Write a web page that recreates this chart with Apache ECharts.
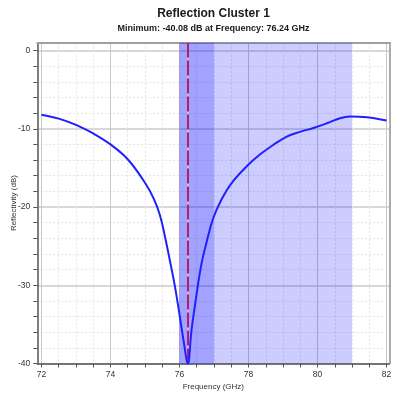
<!DOCTYPE html>
<html><head><meta charset="utf-8">
<script src="https://cdn.jsdelivr.net/npm/echarts@6/dist/echarts.min.js"></script>
<style>html,body{margin:0;padding:0;background:#fff}#c{width:400px;height:400px}</style>
</head><body><div id="c"></div>
<script>
const titleText = 'Reflection Cluster 1';
const subtitleText = 'Minimum: -40.08 dB at Frequency: 76.24 GHz';
const xName = 'Frequency (GHz)';
const yName = 'Reflectivity (dB)';
const freqs = [72.0,72.5,73.0,73.5,74.0,74.5,75.0,75.25,75.43,75.58,75.72,75.87,76.01,76.13,76.24,76.35,76.5,76.64,76.79,76.98,77.2,77.5,77.95,78.33,78.72,79.11,79.49,79.88,80.27,80.65,80.94,81.43,82.0];
const reflectivity = [-8.2,-8.7,-9.5,-10.6,-12.0,-13.9,-16.9,-18.9,-21.0,-23.8,-26.8,-30.2,-34.0,-37.4,-40.08,-35.7,-31.0,-27.2,-24.4,-21.4,-19.2,-17.0,-14.8,-13.3,-12.06,-11.0,-10.4,-9.9,-9.3,-8.65,-8.44,-8.52,-8.95];
const minFreq = 76.24;
const bandOuter = [76, 81];
const bandInner = [76, 77];
const xMajorTicks = [72,74,76,78,80,82];
const xMinorTicks = [72,72.5,73,73.5,74,74.5,75,75.5,76,76.5,77,77.5,78,78.5,79,79.5,80,80.5,81,81.5,82];
const yMajorTicks = [-40,-30,-20,-10,0];
const yMinorTicks = [-40,-38,-36,-34,-32,-30,-28,-26,-24,-22,-20,-18,-16,-14,-12,-10,-8,-6,-4,-2,0];
const xRange = [71.88, 82.08];
const yRange = [-40, 1];

const chart = echarts.init(document.getElementById('c'), null, {renderer:'canvas'});
const fontFam = '"Liberation Sans", Arial, sans-serif';
chart.setOption({
  animation:false,
  backgroundColor:'#fff',
  grid:{left:37.3, right:10.7, top:42.7, bottom:36.5, containLabel:false, outerBoundsMode:'none'},
  graphic:[
    {type:'text', x:213.5, y:14, style:{text:titleText, textAlign:'center', textVerticalAlign:'middle', font:'bold 12px '+fontFam, fill:'#1a1a1a'}},
    {type:'text', x:213.5, y:28.5, style:{text:subtitleText, textAlign:'center', textVerticalAlign:'middle', font:'bold 9px '+fontFam, fill:'#1a1a1a'}}
  ],
  xAxis:[
    {type:'value', min:xRange[0], max:xRange[1], position:'bottom',
     name:xName, nameLocation:'middle', nameGap:19.5, nameMoveOverlap:false, nameTextStyle:{fontFamily:fontFam, fontSize:8, color:'#333'},
     axisLine:{show:true, onZero:false, lineStyle:{color:'#555', width:1.5}},
     axisTick:{show:true, inside:false, length:4, customValues:xMinorTicks, lineStyle:{color:'#555'}},
     axisLabel:{customValues:xMajorTicks, fontFamily:fontFam, fontSize:8.5, color:'#333', margin:7},
     splitLine:{show:true, lineStyle:{color:'#e4e4e4', type:[2,2], width:1}}
    },
    {type:'value', min:xRange[0], max:xRange[1], position:'top',
     axisLine:{show:true, onZero:false, lineStyle:{color:'#a0a0a0', width:2}},
     axisTick:{show:false, customValues:xMajorTicks},
     axisLabel:{show:false},
     splitLine:{show:true, lineStyle:{color:'#c8c8c8', width:1}}
    }
  ],
  yAxis:[
    {type:'value', min:yRange[0], max:yRange[1], position:'left',
     name:yName, nameLocation:'middle', nameGap:20, nameMoveOverlap:false, nameTextStyle:{fontFamily:fontFam, fontSize:8, color:'#333'},
     axisLine:{show:true, onZero:false, lineStyle:{color:'#555', width:1.5}},
     axisTick:{show:true, inside:false, length:4, customValues:yMinorTicks, lineStyle:{color:'#555'}},
     axisLabel:{customValues:yMajorTicks, fontFamily:fontFam, fontSize:8.5, color:'#333', margin:7},
     splitLine:{show:true, lineStyle:{color:'#e4e4e4', type:[2,2], width:1}}
    },
    {type:'value', min:yRange[0], max:yRange[1], position:'right',
     axisLine:{show:true, onZero:false, lineStyle:{color:'#909090', width:1.5}},
     axisTick:{show:false, customValues:yMajorTicks},
     axisLabel:{show:false},
     splitLine:{show:true, lineStyle:{color:'#d8d8d8', width:2}}
    }
  ],
  series:[{
    type:'line',
    xAxisIndex:0, yAxisIndex:0,
    data: freqs.map((f,i)=>[f, reflectivity[i]]),
    smooth:0.4,
    showSymbol:false, symbol:'none',
    lineStyle:{color:'#2020ff', width:2},
    z:5,
    markArea:{silent:true, itemStyle:{color:'rgba(0,0,255,0.2)'},
      data:[[{xAxis:bandOuter[0]},{xAxis:bandOuter[1]}],[{xAxis:bandInner[0]},{xAxis:bandInner[1]}]]},
    markLine:{silent:true, symbol:'none', label:{show:false}, animation:false,
      data:[
        {xAxis:minFreq, lineStyle:{color:'#d6b4e6', width:2, type:'solid'}},
        {xAxis:minFreq, lineStyle:{color:'#b0206a', width:2, type:[15,3]}}
      ]}
  }]
});
</script></body></html>
